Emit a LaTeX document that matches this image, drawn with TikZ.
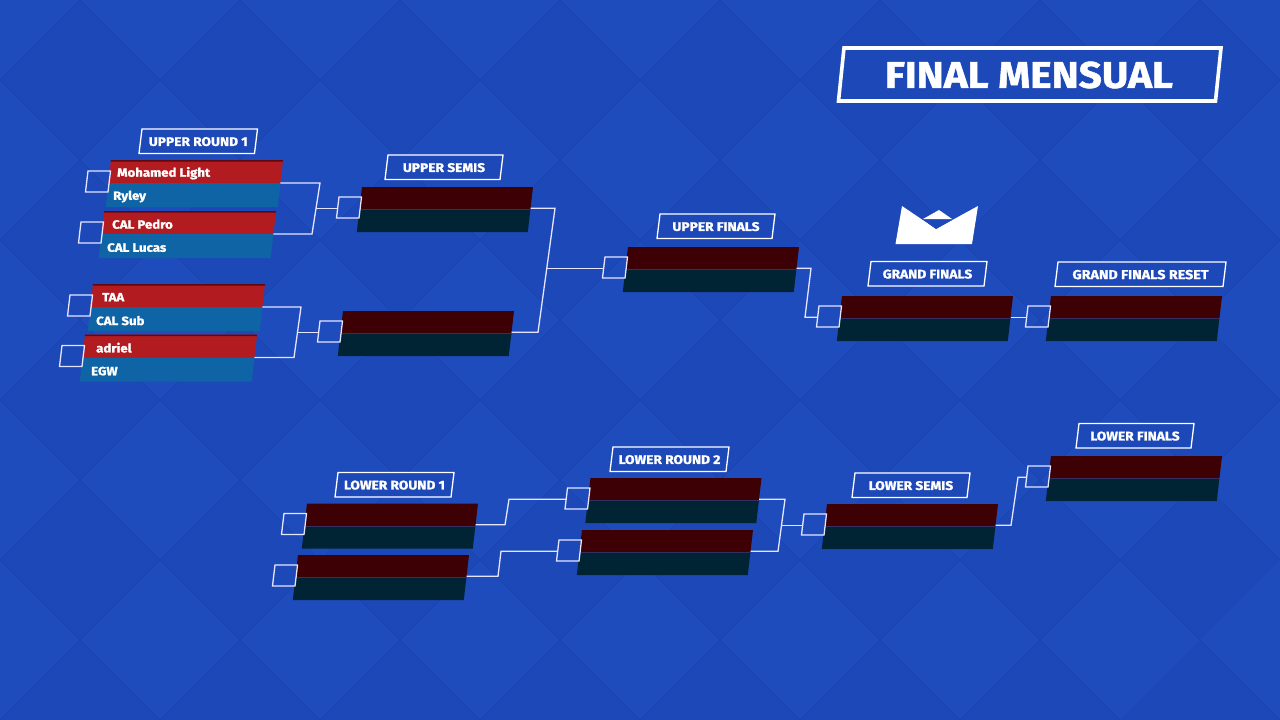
\documentclass[tikz,border=0pt]{standalone}
\usepackage{fontspec}
\setmainfont{Fira Sans}[BoldFeatures={FakeStretch=1.1,FakeBold=1.3}]
\usetikzlibrary{calc}
\definecolor{bg}{HTML}{1D48B8}
\definecolor{bgl}{HTML}{1F4CBC}
\definecolor{seam}{HTML}{1B45B1}
\definecolor{topc}{HTML}{3D0005}
\definecolor{botc}{HTML}{012435}
\definecolor{midc}{HTML}{33305F}
\definecolor{redc}{HTML}{B21C20}
\definecolor{bluc}{HTML}{0E64A4}
\tikzset{
 x=1pt,y=-1pt,
 wire/.style={draw=white!90!blue,line width=1.3pt,line join=miter},
 tagbox/.style={draw=white,line width=1.3pt,fill=bg},
 tagtext/.style={text=white,font=\bfseries\fontsize{12.5}{14}\selectfont,inner sep=0pt,anchor=center},
 teamname/.style={text=white,font=\bfseries\fontsize{12}{14}\selectfont,inner sep=0pt,anchor=west},
}
% #1 name, #2 x, #3 y, #4 top colour, #5 bottom colour
\newcommand{\matchblock}[5]{%
 \fill[#4] (#2,#3) -- ++(171,0) -- ++(-2.6,22.5) -- ++(-171,0) -- cycle;
 \fill[#5] (#2-2.6,#3+22.5) -- ++(171,0) -- ++(-2.6,22.5) -- ++(-171,0) -- cycle;
 \draw[midc,line width=.6pt] (#2-2.6,#3+22.3) -- ++(171,0);
 \coordinate (#1) at (#2,#3);
 \coordinate (#1-out) at (#2+168.6,#3+21.3);
 \draw[wire] (#2-23,#3+10) -- (#2-0.5,#3+10) -- (#2-3,#3+31) -- (#2-25.5,#3+31) -- cycle;
 \coordinate (#1-in) at (#2-24.2,#3+21.3);
}
% #1 name, #2 x (top left), #3 y, #4 width, #5 text
\newcommand{\stagelabel}[5]{%
 \draw[tagbox] (#2,#3) -- ++(#4,0) -- ++(-3,24.5) -- ++(-#4,0) -- cycle;
 \node[tagtext] (#1) at (#2-1.5+#4/2,#3+12.6) {#5};
}
% #1 name, #2 x, #3 y, #4 #5 team names, #6 #7 text offsets
\newcommand{\teamblock}[7]{%
 \fill[redc] (#2,#3) -- ++(172,0) -- ++(-2.6,23) -- ++(-172,0) -- cycle;
 \fill[topc!70!redc] (#2,#3) -- ++(172,0) -- ++(-.2,1.6) -- ++(-172,0) -- cycle;
 \fill[bluc] (#2-2.6,#3+23) -- ++(172,0) -- ++(-2.6,24) -- ++(-172,0) -- cycle;
 \node[teamname] (#1-a) at (#2+#6,#3+13.2) {#4};
 \node[teamname] (#1-b) at (#2+#7,#3+36.6) {#5};
 \coordinate (#1-out) at (#2+169.4,#3+23);
 \draw[wire] (#2-23,#3+11) -- (#2-0.5,#3+11) -- (#2-3,#3+32) -- (#2-25.5,#3+32) -- cycle;
}
\begin{document}
\begin{tikzpicture}
\useasboundingbox (0,0) rectangle (1280,720);
\fill[bg] (0,0) rectangle (1280,720);
% quilted background
\begin{scope}
\clip (0,0) rectangle (1280,720);
\foreach \i in {0,...,8}{
 \foreach \j in {0,...,5}{
  \pgfmathsetmacro{\cx}{\i*160}
  \pgfmathsetmacro{\cy}{\j*160}
  \fill[bgl] (\cx,\cy-80) -- (\cx+80,\cy) -- (\cx,\cy+80) -- (\cx-80,\cy) -- cycle;
 }
}
\foreach \k in {-6,...,10}{
  \draw[seam,line width=.8pt] (\k*160+80,0) -- ++(800,800);
  \draw[seam,line width=.8pt] (\k*160+80,0) -- ++(-800,800);
}
\end{scope}
% title
\draw[white,line width=3.6pt,fill=bg] (844,48) -- (1221,48) -- (1215.5,101) -- (838.5,101) -- cycle;
\node[text=white,font=\bfseries\fontsize{37}{40}\selectfont,inner sep=0pt] (title) at (1029,75) {FINAL MENSUAL};
% crown
\fill[white] (902,206) -- (936,229) -- (978,206) -- (972,244) -- (895.5,244) -- cycle;
\fill[white] (923,219) -- (939,210) -- (952,219) -- cycle;
\fill[bg] (924,220) -- (952,220) -- (936,229) -- cycle;
% named matches
\teamblock{ua}{111}{160}{Mohamed Light}{Ryley}{6}{2}
\teamblock{ub}{104}{211}{CAL Pedro}{CAL Lucas}{8}{3}
\teamblock{uc}{93}{284}{TAA}{CAL Sub}{9}{3}
\teamblock{ud}{85}{334.5}{adriel}{EGW}{11}{6}
% empty matches
\matchblock{semA}{362}{187}{topc}{botc}
\matchblock{semB}{343}{311}{topc}{botc}
\matchblock{ufin}{628}{247}{topc}{botc}
\matchblock{gf}{842}{296}{topc}{botc}
\matchblock{gfr}{1051}{296}{topc}{botc}
\matchblock{lra}{307}{503.5}{topc}{botc}
\matchblock{lrb}{298}{555}{topc}{botc}
\matchblock{lsa}{590.5}{478}{topc}{botc}
\matchblock{lsb}{582}{530}{topc}{botc}
\matchblock{lsem}{827}{504}{topc}{botc}
\matchblock{lfin}{1051}{456}{topc}{botc}
% connectors
\draw[wire] (ua-out) -- (320,183) -- (312,234) -- (ub-out);
\draw[wire] (316,208.3) -- (semA-in);
\draw[wire] (uc-out) -- (301,307) -- (294,357.5) -- (ud-out);
\draw[wire] (297.5,332.3) -- (semB-in);
\draw[wire] (semA-out) -- (555,208.3) -- (538,332.3) -- (semB-out);
\draw[wire] (547,268.3) -- (ufin-in);
\draw[wire] (ufin-out) -- (811,268.3) -- (805,317.3) -- (gf-in);
\draw[wire] (gf-out) -- (gfr-in);
\draw[wire] (lra-out) -- (505,524.8) -- (509,499.3) -- (lsa-in);
\draw[wire] (lrb-out) -- (498,576.3) -- (501,551.3) -- (lsb-in);
\draw[wire] (lsa-out) -- (785,499.3) -- (778,551.3) -- (lsb-out);
\draw[wire] (781,525.3) -- (lsem-in);
\draw[wire] (lsem-out) -- (1011,525.3) -- (1018,477.3) -- (lfin-in);
% stage labels
\stagelabel{l1}{142}{129}{115.5}{UPPER ROUND 1}
\stagelabel{l2}{388}{155}{115}{UPPER SEMIS}
\stagelabel{l3}{660}{214}{115}{UPPER FINALS}
\stagelabel{l4}{871}{261.5}{116}{GRAND FINALS}
\stagelabel{l5}{1058}{262}{168}{\fontsize{13}{14}\selectfont GRAND FINALS RESET}
\stagelabel{l6}{1079}{423.5}{115}{LOWER FINALS}
\stagelabel{l7}{855}{473}{115}{LOWER SEMIS}
\stagelabel{l8}{613}{447}{116}{LOWER ROUND 2}
\stagelabel{l9}{338}{472.5}{116}{LOWER ROUND 1}
\end{tikzpicture}
\end{document}
